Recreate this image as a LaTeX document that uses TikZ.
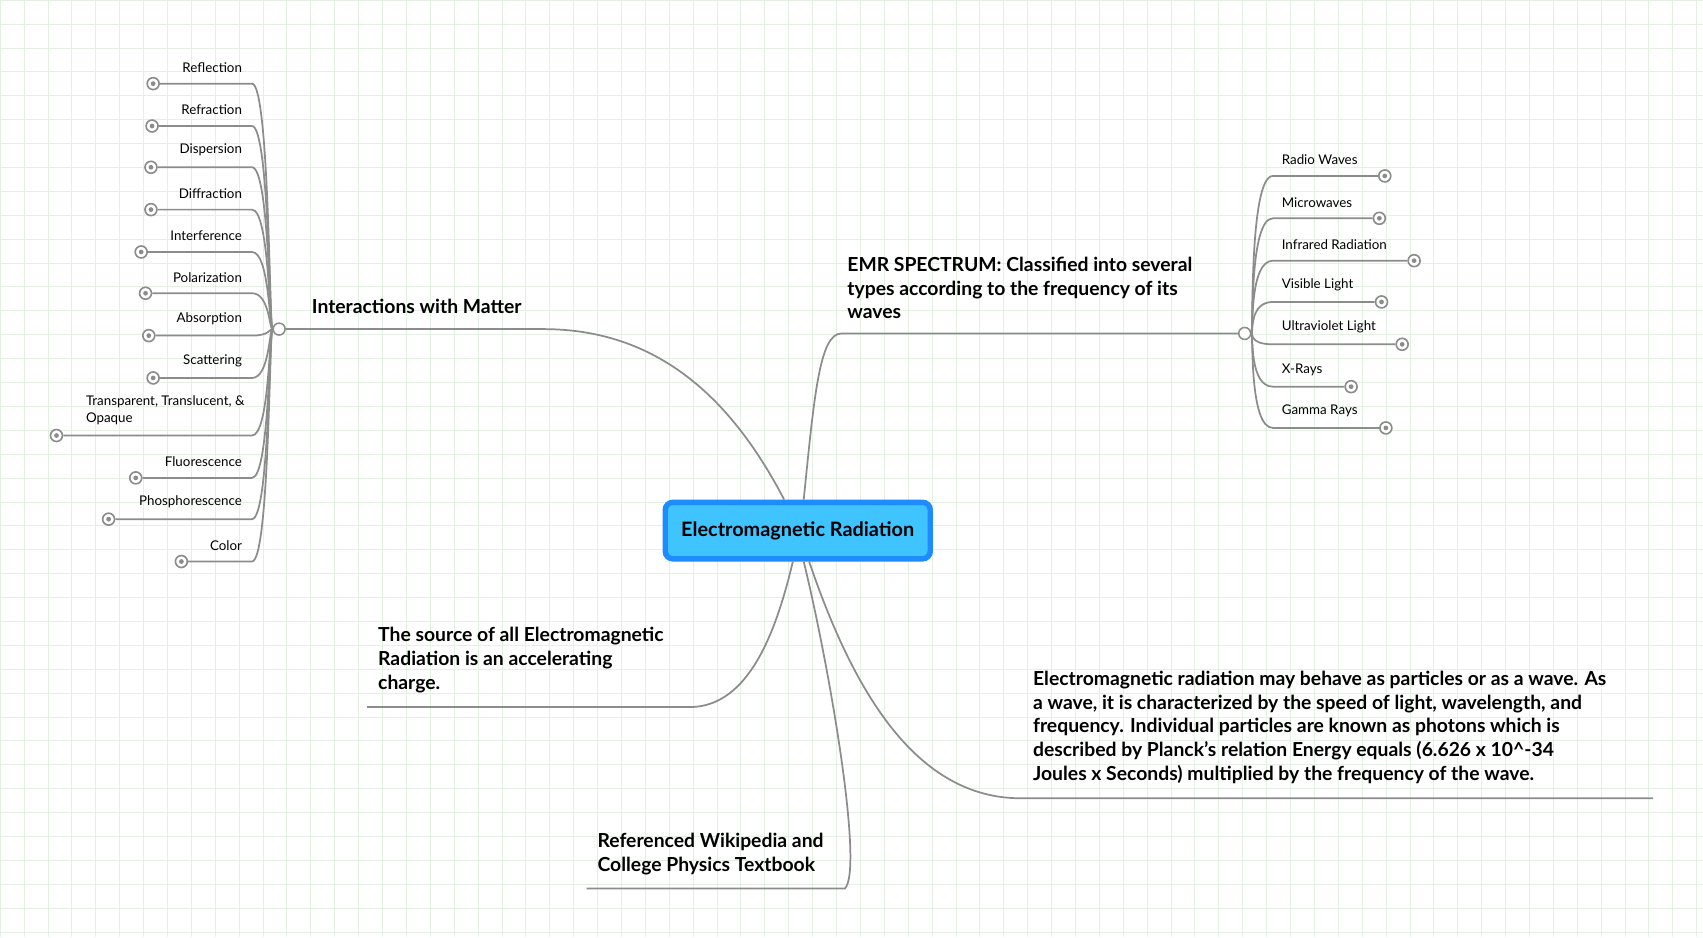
\documentclass[tikz,border=0pt]{standalone}
\usepackage{fontspec}
\setmainfont{Lato}
\begin{document}
\begin{tikzpicture}[x=1pt,y=-1pt,
 ln/.style={draw=black!45,line width=1.6pt},
 dotc/.style={circle,draw=black!45,line width=1.5pt,fill=white,minimum size=11pt,inner sep=0pt,path picture={\fill[black!45] (path picture bounding box.center) circle (2.2pt);}},
 hub/.style={circle,draw=black!45,line width=1.4pt,fill=white,minimum size=11pt,inner sep=0pt},
 sm/.style={font=\fontsize{12.3}{15}\selectfont,inner sep=0pt},
 bg/.style={font=\bfseries\fontsize{17.8}{22}\selectfont,inner sep=0pt,align=left}]
\useasboundingbox (0,0) rectangle (1568,863);
\fill[white] (0,0) rectangle (1568,863);
\foreach \i in {0,...,72}{\draw[green!40!black!10,line width=0.5pt] (\i*22,0) -- (\i*22,863);}
\foreach \i in {0,...,40}{\draw[green!40!black!10,line width=0.5pt] (0,\i*22) -- (1568,\i*22);}
\definecolor{bd}{HTML}{1E8BFF}\definecolor{fl}{HTML}{40C4FF}
\node[draw=bd,fill=fl,line width=5pt,rounded corners=7pt,minimum width=244pt,minimum height=52pt,font=\bfseries\fontsize{18.3}{20}\selectfont] (c) at (734.5,488.5) {Electromagnetic Radiation};
% left hub
\node[hub] (lh) at (257,303) {};
\coordinate (cl) at (722,460);
\draw[ln] (cl) .. controls (670,360) and (600,303) .. (500,303) -- (lh);
\node[bg,anchor=south west] (lt) at (287,289) {Interactions with Matter};
\foreach \y/\x/\t [count=\i] in {77/141/Reflection,116/140/Refraction,154/139/Dispersion,193/139/Diffraction,232/130/Interference,270/134/Polarization,309/137/Absorption,348/141/Scattering,440/125/Fluorescence,478/100/Phosphorescence,517/167/Color}{
 \node[dotc] (l\i) at (\x,\y) {};
 \draw[ln] (l\i) -- (232,\y) .. controls (248,\y) and (248,303) .. (lh);
 \node[sm,anchor=south east] at (223,\y-10) {\t};
}
\node[dotc] (lt9) at (52,401) {};
\draw[ln] (lt9) -- (232,401) .. controls (248,401) and (248,303) .. (lh);
\node[sm,anchor=south west,align=left] at (79,391) {Transparent, Translucent, \&\\Opaque};
% right hub
\node[hub] (rh) at (1146,307) {};
\coordinate (cr) at (740,460);
\draw[ln] (cr) .. controls (750,360) and (755,307) .. (775,307) -- (rh);
\node[bg,anchor=south west] at (780,294) {EMR SPECTRUM: Classified into several\\types according to the frequency of its\\waves};
\foreach \y/\x/\t [count=\i] in {162/1275/Radio Waves,201/1270/Microwaves,240/1302/Infrared Radiation,278/1272/Visible Light,317/1291/Ultraviolet Light,356/1244/X-Rays,394/1276/Gamma Rays}{
 \node[dotc] (r\i) at (\x,\y) {};
 \draw[ln] (rh) .. controls (1154,307) and (1150,\y) .. (1172,\y) -- (r\i);
 \node[sm,anchor=south west] at (1180,\y-10) {\t};
}
% bottom branches
\coordinate (s1) at (730,517);
\coordinate (s2) at (338,651);
\draw[ln] (s1) .. controls (715,580) and (690,651) .. (635,651) -- (s2);
\node[bg,anchor=south west] at (348,638) {The source of all Electromagnetic\\Radiation is an accelerating\\charge.};
\coordinate (r1) at (740,517);
\coordinate (r2) at (540,818);
\draw[ln] (r1) .. controls (765,620) and (795,800) .. (778,818) -- (r2);
\node[bg,anchor=south west] at (550,806) {Referenced Wikipedia and\\College Physics Textbook};
\coordinate (e1) at (745,517);
\coordinate (e2) at (1522,735);
\draw[ln] (e1) .. controls (790,650) and (850,735) .. (940,735) -- (e2);
\node[bg,anchor=south west] at (951,722) {Electromagnetic radiation may behave as particles or as a wave. As\\a wave, it is characterized by the speed of light, wavelength, and\\frequency. Individual particles are known as photons which is\\described by Planck's relation Energy equals (6.626 x 10\^{}-34\\Joules x Seconds) multiplied by the frequency of the wave.};
\end{tikzpicture}
\end{document}
